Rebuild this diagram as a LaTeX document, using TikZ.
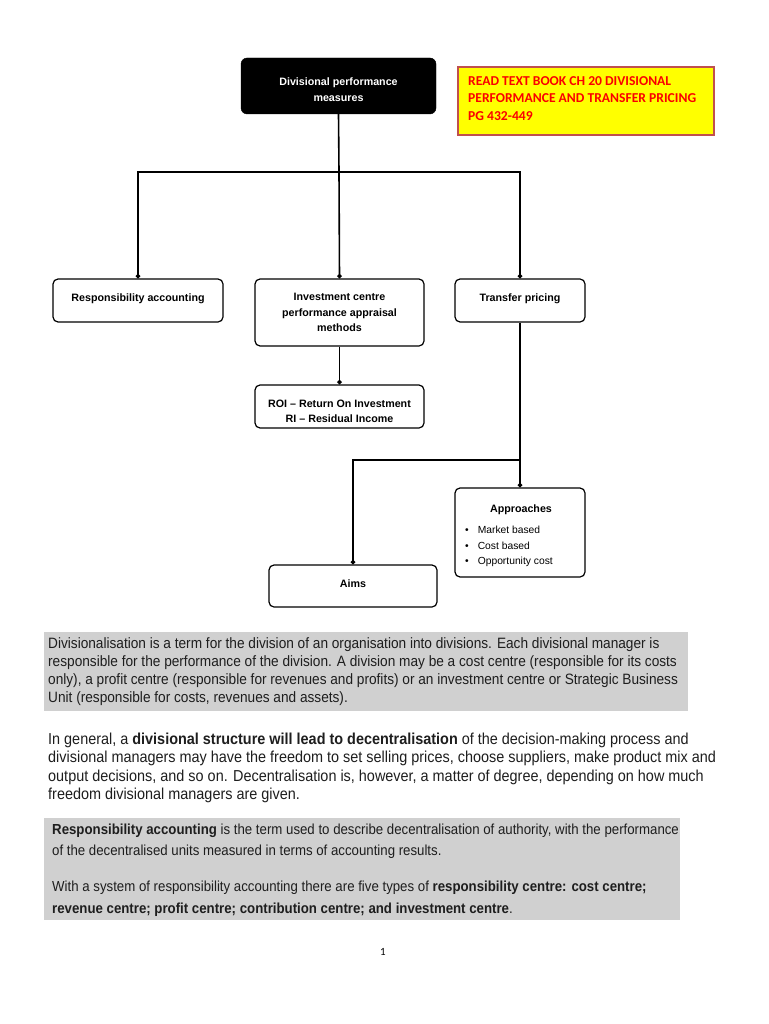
\documentclass[tikz,border=0pt]{standalone}
\usepackage{fontspec}
\setmainfont{Liberation Sans}
\newfontfamily\narrowfont[FakeStretch=0.91]{Liberation Sans}
\newfontfamily\calfont{Carlito}
\usetikzlibrary{arrows.meta}
\definecolor{pgray}{RGB}{208,208,208}
\definecolor{boxred}{RGB}{192,80,77}
\definecolor{txtred}{RGB}{250,0,0}
\definecolor{yel}{RGB}{255,255,0}
\definecolor{ptext}{RGB}{30,30,30}
\begin{document}
\begin{tikzpicture}[x=1pt,y=-1pt,
  box/.style={draw, line width=1.2pt, rounded corners=5pt, fill=white, align=center, inner sep=0pt,
    font=\fontsize{10.7}{15.5}\selectfont\bfseries},
  btext/.style={align=center, inner sep=0pt, font=\fontsize{10.7}{15.5}\selectfont\bfseries},
  conn/.style={line width=1.6pt},
  dotend/.style={conn,-{Circle[length=4.5pt]}},
  para/.style={anchor=north west, align=left, inner sep=0pt, text=ptext}
]
\useasboundingbox[fill=white] (0,0) rectangle (768,1024);

% top box
\node[draw=black, fill=black, rounded corners=6pt, minimum width=195, minimum height=56] (top) at (338.5,86) {};
\node[btext, text=white, font=\fontsize{10.7}{16}\selectfont\bfseries] (topt) at (338.5,90) {Divisional performance\\measures};

% note
\node[draw=boxred, line width=2pt, fill=yel, anchor=north west, minimum width=256, minimum height=68] (note) at (457,66) {};
\node[anchor=north west, align=left, inner sep=0pt, text=txtred,
  font=\calfont\fontsize{13.6}{17.6}\selectfont\bfseries] (notet) at (468,76)
  {READ TEXT BOOK CH 20 DIVISIONAL\\PERFORMANCE AND TRANSFER PRICING\\PG 432-449};

% level 2
\node[box, minimum width=170, minimum height=43] (ra) at (138,300.5) {};
\node[btext] (rat) at (138,298.5) {Responsibility accounting};
\node[box, minimum width=169, minimum height=67] (inv) at (339.5,312.5) {};
\node[btext] (invt) at (339.5,312.5) {Investment centre\\performance appraisal\\methods};
\node[box, minimum width=130, minimum height=43] (tp) at (520,300.5) {};
\node[btext] (tpt) at (520,298.5) {Transfer pricing};
\node[box, minimum width=169, minimum height=43] (roi) at (339.5,406.5) {};
\node[btext, font=\fontsize{10.7}{15}\selectfont\bfseries] (roit) at (339.5,411) {ROI – Return On Investment\\RI – Residual Income};
\node[box, minimum width=130, minimum height=89] (app) at (520,532.5) {};
\node[btext] (apt) at (521,510) {Approaches};
\node[anchor=west, inner sep=0pt, font=\fontsize{10.3}{14}\selectfont] (b1) at (465,530) {\textbullet\hspace{9pt}Market based};
\node[anchor=west, inner sep=0pt, font=\fontsize{10.3}{14}\selectfont] (b2) at (465,546) {\textbullet\hspace{9pt}Cost based};
\node[anchor=west, inner sep=0pt, font=\fontsize{10.3}{14}\selectfont] (b3) at (465,562) {\textbullet\hspace{9pt}Opportunity cost};
\node[box, minimum width=168, minimum height=42] (aims) at (353,586) {};
\node[btext] (aimst) at (353,584) {Aims};

% connectors
\coordinate (j1) at (339,172);
\coordinate (j2) at (520,460);
\draw[conn] (top.south) -- (j1);
\draw[dotend] (j1) -| (ra.north);
\draw[dotend] (j1) -| (tp.north);
\draw[dotend] (j1) -- (inv.north);
\draw[dotend] (inv.south) -- (roi.north);
\draw[conn] (tp.south) -- (j2);
\draw[dotend] (j2) -- (app.north);
\draw[dotend] (j2) -| (aims.north);

% paragraph 1
\node[fill=pgray, anchor=north west, minimum width=644, minimum height=79, inner sep=0pt] (g1) at (44,632) {};
\node[para, font=\narrowfont\fontsize{15}{18}\selectfont] (p1) at (48,637.5)
{Divisionalisation is a term for the division of an organisation into divisions. Each divisional manager is\\
responsible for the performance of the division. A division may be a cost centre (responsible for its costs\\
only), a profit centre (responsible for revenues and profits) or an investment centre or Strategic Business\\
Unit (responsible for costs, revenues and assets).};

% paragraph 2
\node[para, font=\narrowfont\fontsize{15.85}{18.6}\selectfont] (p2) at (48,732.5)
{In general, a \textbf{divisional structure will lead to decentralisation} of the decision-making process and\\
divisional managers may have the freedom to set selling prices, choose suppliers, make product mix and\\
output decisions, and so on. Decentralisation is, however, a matter of degree, depending on how much\\
freedom divisional managers are given.};

% paragraph 3
\node[fill=pgray, anchor=north west, minimum width=636, minimum height=102, inner sep=0pt] (g3) at (44,818) {};
\node[para, font=\narrowfont\fontsize{14.55}{21}\selectfont] (p3a) at (52,824)
{\textbf{Responsibility accounting} is the term used to describe decentralisation of authority, with the performance\\
of the decentralised units measured in terms of accounting results.};
\node[para, font=\narrowfont\fontsize{14.55}{22}\selectfont] (p3b) at (52,880.5)
{With a system of responsibility accounting there are five types of \textbf{responsibility centre: cost centre;}\\
\textbf{revenue centre; profit centre; contribution centre; and investment centre}.};

\node[font=\calfont\fontsize{11}{13}\selectfont, inner sep=0pt] (pg) at (383,952) {1};
\end{tikzpicture}
\end{document}
